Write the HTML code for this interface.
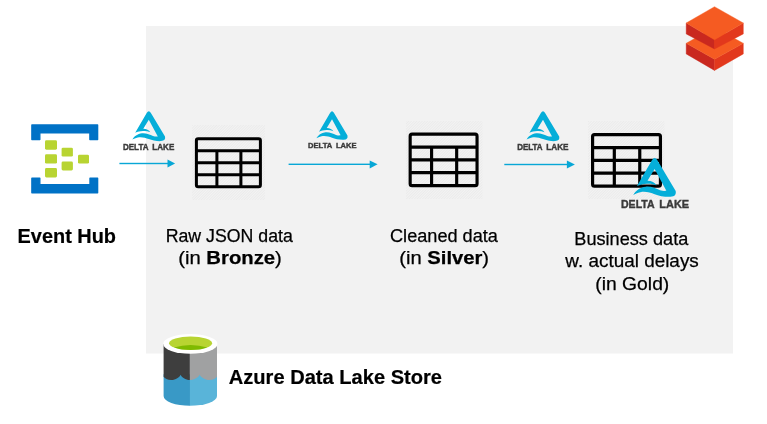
<!DOCTYPE html>
<html><head><meta charset="utf-8">
<style>
html,body{margin:0;padding:0;background:#fff;width:767px;height:424px;overflow:hidden}
svg{display:block;position:absolute;left:0;top:0;will-change:transform}
text{font-family:"Liberation Sans",sans-serif;fill:#000}
.dl{font-weight:bold;fill:#3a3a3a;stroke:#3a3a3a;stroke-width:0.4}
</style></head><body>
<svg width="767" height="424" viewBox="0 0 767 424">
<defs>
<pattern id="hatch" width="1.9" height="1.9" patternUnits="userSpaceOnUse" patternTransform="rotate(-45)">
<rect width="1.9" height="1.9" fill="#f3f3f3"/><rect width="1.9" height="0.8" fill="#eaeaea"/>
</pattern>
<symbol id="delta" overflow="visible">
<path fill="#05aed9" d="M18.7 5 Q20.8 1.6 22.9 5 L37 28.6 Q38 32.8 33 33.1 C29 33.3 24 32.4 20.8 31.1 C17.5 29.6 13 28.6 9.8 29.5 C7.5 30 5.8 30.8 4.35 31.6 C6 28.5 9.5 25.8 14 25.3 C18 24.9 22 26.8 25 28 C27 28.6 28.5 28.6 29.8 28.4 L20.8 11.7 L15.3 20.65 C18.5 20.7 21 22 22.3 24.3 C20 23.2 17.5 22.8 15 23 C12 23.2 9.5 23.8 7.2 24.7 Z"/>
</symbol>
<symbol id="table" overflow="visible">
<rect x="1.5" y="1.5" width="64" height="48" rx="1.8" ry="1.8" fill="none" stroke="#000" stroke-width="3"/>
<path d="M1.5 13.5 H65.5 M1.5 25.5 H65.5 M1.5 37.5 H65.5 M22 13.5 V49.5 M46 13.5 V49.5" stroke="#000" stroke-width="3" fill="none"/>
</symbol>
</defs>

<!-- grey panel -->
<rect x="146" y="26" width="587" height="327.5" fill="#f2f2f2"/>

<!-- hatched table backgrounds -->
<rect x="192" y="125" width="73" height="75" fill="url(#hatch)"/>
<rect x="406" y="121" width="76.5" height="78" fill="url(#hatch)"/>
<rect x="588" y="121" width="76.5" height="78" fill="url(#hatch)"/>

<!-- Event hub icon -->
<g fill="#0072c6" stroke="#0072c6" stroke-width="1.4" stroke-linejoin="round">
<path d="M31.9 124.9 H97.6 V139.5 H89.9 V132.7 H39.8 V139.5 H31.9 Z"/>
<path d="M31.9 192.8 H97.6 V178.2 H90 V184.8 H39.8 V178.2 H31.9 Z"/>
</g>
<g fill="#b8d432">
<rect x="45" y="140.3" width="12" height="9.4" rx="1.4"/>
<rect x="45" y="154.2" width="12" height="9.4" rx="1.4"/>
<rect x="45" y="168.1" width="12" height="9.4" rx="1.4"/>
<rect x="61.6" y="147.7" width="11.3" height="8.9" rx="1.4"/>
<rect x="61.6" y="161.5" width="11.3" height="9" rx="1.4"/>
<rect x="78" y="154.7" width="11" height="8.9" rx="1.4"/>
</g>

<!-- arrows -->
<g fill="#08a7d6" stroke="none">
<rect x="119.4" y="162.8" width="50" height="1.4"/>
<path d="M167.5 159.4 L175.1 163.5 L167.5 167.6 Z"/>
<rect x="288.6" y="163.6" width="83" height="1.4"/>
<path d="M369.7 160.4 L377.6 164.3 L369.7 168.4 Z"/>
<rect x="504.3" y="163.8" width="64" height="1.4"/>
<path d="M566.9 160.6 L574.9 164.5 L566.9 168.4 Z"/>
</g>

<!-- tables -->
<use href="#table" transform="translate(194.9,137.3) scale(1.0,1.0)"/>
<use href="#table" transform="translate(408.6,132.6) scale(1.045,1.07)"/>
<use href="#table" transform="translate(591,133.1) scale(1.06,1.07)"/>

<!-- delta lake logos -->
<use href="#delta" transform="translate(128,108)"/>
<use href="#delta" transform="translate(312.2,108.2) scale(0.953)"/>
<use href="#delta" transform="translate(522.2,108)"/>
<use href="#delta" transform="translate(627.6,153.8) scale(1.30)"/>
<text x="123.0" y="149.9" textLength="25.5" lengthAdjust="spacingAndGlyphs" class="dl" style="font-size:8.6px">DELTA</text>
<text x="152.3" y="149.9" textLength="22.0" lengthAdjust="spacingAndGlyphs" class="dl" style="font-size:8.6px">LAKE</text>
<text x="308.0" y="148.2" textLength="24.2" lengthAdjust="spacingAndGlyphs" class="dl" style="font-size:7.9px">DELTA</text>
<text x="336.0" y="148.2" textLength="20.6" lengthAdjust="spacingAndGlyphs" class="dl" style="font-size:7.9px">LAKE</text>
<text x="517.2" y="149.9" textLength="25.4" lengthAdjust="spacingAndGlyphs" class="dl" style="font-size:8.6px">DELTA</text>
<text x="546.3" y="149.9" textLength="22.3" lengthAdjust="spacingAndGlyphs" class="dl" style="font-size:8.6px">LAKE</text>
<text x="621.0" y="208.4" textLength="33.6" lengthAdjust="spacingAndGlyphs" class="dl" style="font-size:11.3px">DELTA</text>
<text x="659.3" y="208.4" textLength="29.8" lengthAdjust="spacingAndGlyphs" class="dl" style="font-size:11.3px">LAKE</text>

<!-- databricks logo -->
<polygon fill="#c9281f" stroke="#c9281f" stroke-width="0.4" stroke-linejoin="round" points="686.2,43.3 714.5,59.2 714.5,70.4 686.2,53.9"/>
<polygon fill="#e2381c" stroke="#e2381c" stroke-width="0.4" stroke-linejoin="round" points="743.3,43.3 714.5,59.2 714.5,70.4 743.3,53.9"/>
<polygon fill="#f55b22" stroke="#f55b22" stroke-width="0.4" stroke-linejoin="round" points="686.2,43.3 714.5,27.4 743.3,43.3 714.5,59.2"/>
<polygon fill="#c9281f" stroke="#c9281f" stroke-width="0.4" stroke-linejoin="round" points="686.2,23 714.5,39.8 714.5,49 686.2,33.9"/>
<polygon fill="#e2381c" stroke="#e2381c" stroke-width="0.4" stroke-linejoin="round" points="743.3,23 714.5,39.8 714.5,49 743.3,33.9"/>
<polygon fill="#f55b22" stroke="#f55b22" stroke-width="0.4" stroke-linejoin="round" points="686.2,23 714.5,6.7 743.3,23 714.5,39.8"/>

<!-- ADLS cylinder -->
<g>
<path fill="#3999c6" d="M163.6 374.3 V396 A26.7 9.8 0 0 0 190 405.8 V374.3 Z"/>
<path fill="#59b4d9" d="M189.9 374.3 V405.8 A27.1 9.8 0 0 0 217 396 V374.3 Z"/>
<path fill="#3e3e3e" d="M163.6 344 H189.9 V380 C185.5 380 181.7 377.3 180.6 374.7 C179.5 377.3 175.7 380 171.3 380 C167.5 380 165 378.5 163.6 376.7 Z"/>
<path fill="#a0a1a2" d="M189.9 344 H217 V376.7 C215.5 378.5 213 380 209.3 380 C204.9 380 201.1 377.3 199.6 374.7 C198.5 377.3 194.3 380 189.9 380 Z"/>
<ellipse cx="190.35" cy="343.9" rx="27.1" ry="9.9" fill="#fff"/>
<ellipse cx="190.6" cy="343.2" rx="21.5" ry="6.6" fill="#b8d432"/>
<path fill="#7fba00" d="M173.8 347.6 Q190.6 342.2 207.5 347.6 A21.5 6.6 0 0 1 173.8 347.6 Z"/>
</g>

<!-- texts -->
<text x="17.6" y="242.7" textLength="98.4" lengthAdjust="spacingAndGlyphs" style="font-weight:bold;font-size:19.4px;stroke:#000;stroke-width:0.2">Event Hub</text>
<text x="165.7" y="242.0" textLength="127.1" lengthAdjust="spacingAndGlyphs" style="font-size:18.7px;stroke:#000;stroke-width:0.25">Raw JSON data</text>
<text x="178.2" y="263.9" textLength="103.7" lengthAdjust="spacingAndGlyphs" style="font-size:18.7px;stroke:#000;stroke-width:0.25">(in <tspan style="font-weight:bold">Bronze</tspan>)</text>
<text x="390.0" y="241.9" textLength="107.9" lengthAdjust="spacingAndGlyphs" style="font-size:18.7px;stroke:#000;stroke-width:0.25">Cleaned data</text>
<text x="399.2" y="263.8" textLength="89.9" lengthAdjust="spacingAndGlyphs" style="font-size:18.7px;stroke:#000;stroke-width:0.25">(in <tspan style="font-weight:bold">Silver</tspan>)</text>
<text x="574.3" y="245.1" textLength="114.0" lengthAdjust="spacingAndGlyphs" style="font-size:18.7px;stroke:#000;stroke-width:0.25">Business data</text>
<text x="565.3" y="267.2" textLength="133.5" lengthAdjust="spacingAndGlyphs" style="font-size:18.7px;stroke:#000;stroke-width:0.25">w. actual delays</text>
<text x="595.3" y="290.3" textLength="74.0" lengthAdjust="spacingAndGlyphs" style="font-size:18.7px;stroke:#000;stroke-width:0.25">(in Gold)</text>
<text x="228.8" y="384.0" textLength="213.2" lengthAdjust="spacingAndGlyphs" style="font-weight:bold;font-size:19.4px;stroke:#000;stroke-width:0.2">Azure Data Lake Store</text>
</svg>
</body></html>
